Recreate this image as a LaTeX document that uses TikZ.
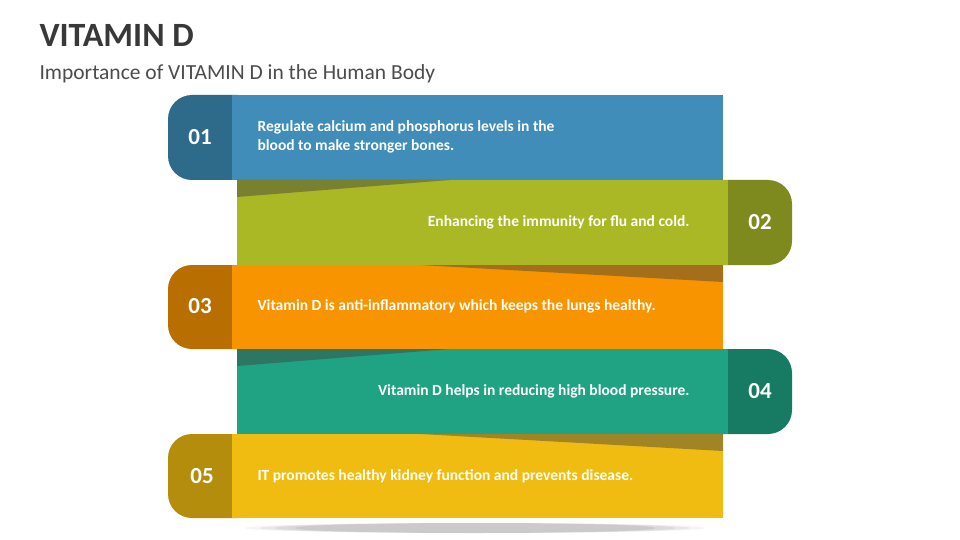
\documentclass[tikz,border=0pt]{standalone}
\usepackage{fontspec}
\setmainfont{Carlito}
\begin{document}
\begin{tikzpicture}[x=1pt,y=-1pt,
  txt/.style={text=white,font=\bfseries\fontsize{15.5}{19}\selectfont,align=left},
  num/.style={text=white,font=\bfseries\fontsize{23}{25}\selectfont},
  shd/.style={fill=black!75,opacity=0.45}]
\useasboundingbox (0,0) rectangle (960,540);
\fill[white] (0,0) rectangle (960,540);
\node[anchor=west,font=\bfseries\fontsize{34}{37}\selectfont,text=black!78] (title) at (36,35) {VITAMIN D};
\node[anchor=west,font=\fontsize{21.5}{24}\selectfont,text=black!70] (sub) at (36,74) {Importance of VITAMIN D in the Human Body};
% bottom shadow
\foreach \r/\o in {230/0.04,215/0.05,200/0.06,180/0.07}
  \fill[black,opacity=\o] (475,528) ellipse[x radius=\r,y radius=5];
\definecolor{c1}{HTML}{3F8DB8}\definecolor{t1}{HTML}{2E6A8A}
\definecolor{c2}{HTML}{A9B824}\definecolor{t2}{HTML}{7E8A1D}
\definecolor{c3}{HTML}{F79400}\definecolor{t3}{HTML}{B86E00}
\definecolor{c4}{HTML}{1FA383}\definecolor{t4}{HTML}{177A62}
\definecolor{c5}{HTML}{F0BC12}\definecolor{t5}{HTML}{B48D0D}
% row 5
\fill[t5,rounded corners=24] (168,434) rectangle (262,518);
\fill[c5] (232,434) rectangle (723,518);
% row 4
\fill[t4,rounded corners=24] (698,349) rectangle (792,434);
\fill[c4] (237,349) rectangle (728,434);
\fill[shd] (420,434) -- (723,434) -- (723,451) -- cycle;
% row 3
\fill[t3,rounded corners=24] (168,265) rectangle (262,349);
\fill[c3] (232,265) rectangle (723,349);
\fill[shd] (237,349) -- (450,349) -- (237,366) -- cycle;
% row 2
\fill[t2,rounded corners=24] (698,180) rectangle (792,265);
\fill[c2] (237,180) rectangle (728,265);
\fill[shd] (420,265) -- (723,265) -- (723,282) -- cycle;
% row 1
\fill[t1,rounded corners=24] (168,95) rectangle (262,180);
\fill[c1] (232,95) rectangle (723,180);
\fill[shd] (237,180) -- (450,180) -- (237,197) -- cycle;
% texts
\node[num] (n1) at (200,137) {01};
\node[num] (n2) at (760,222) {02};
\node[num] (n3) at (200,306) {03};
\node[num] (n4) at (760,391) {04};
\node[num] (n5) at (202,476) {05};
\node[txt,anchor=west] (tx1) at (254,137) {Regulate calcium and phosphorus levels in the\\blood to make stronger bones.};
\node[txt,anchor=east] (tx2) at (693,222) {Enhancing the immunity for flu and cold.};
\node[txt,anchor=west] (tx3) at (254,306) {Vitamin D is anti-inflammatory which keeps the lungs healthy.};
\node[txt,anchor=east] (tx4) at (693,391) {Vitamin D helps in reducing high blood pressure.};
\node[txt,anchor=west] (tx5) at (254,476) {IT promotes healthy kidney function and prevents disease.};
\end{tikzpicture}
\end{document}
